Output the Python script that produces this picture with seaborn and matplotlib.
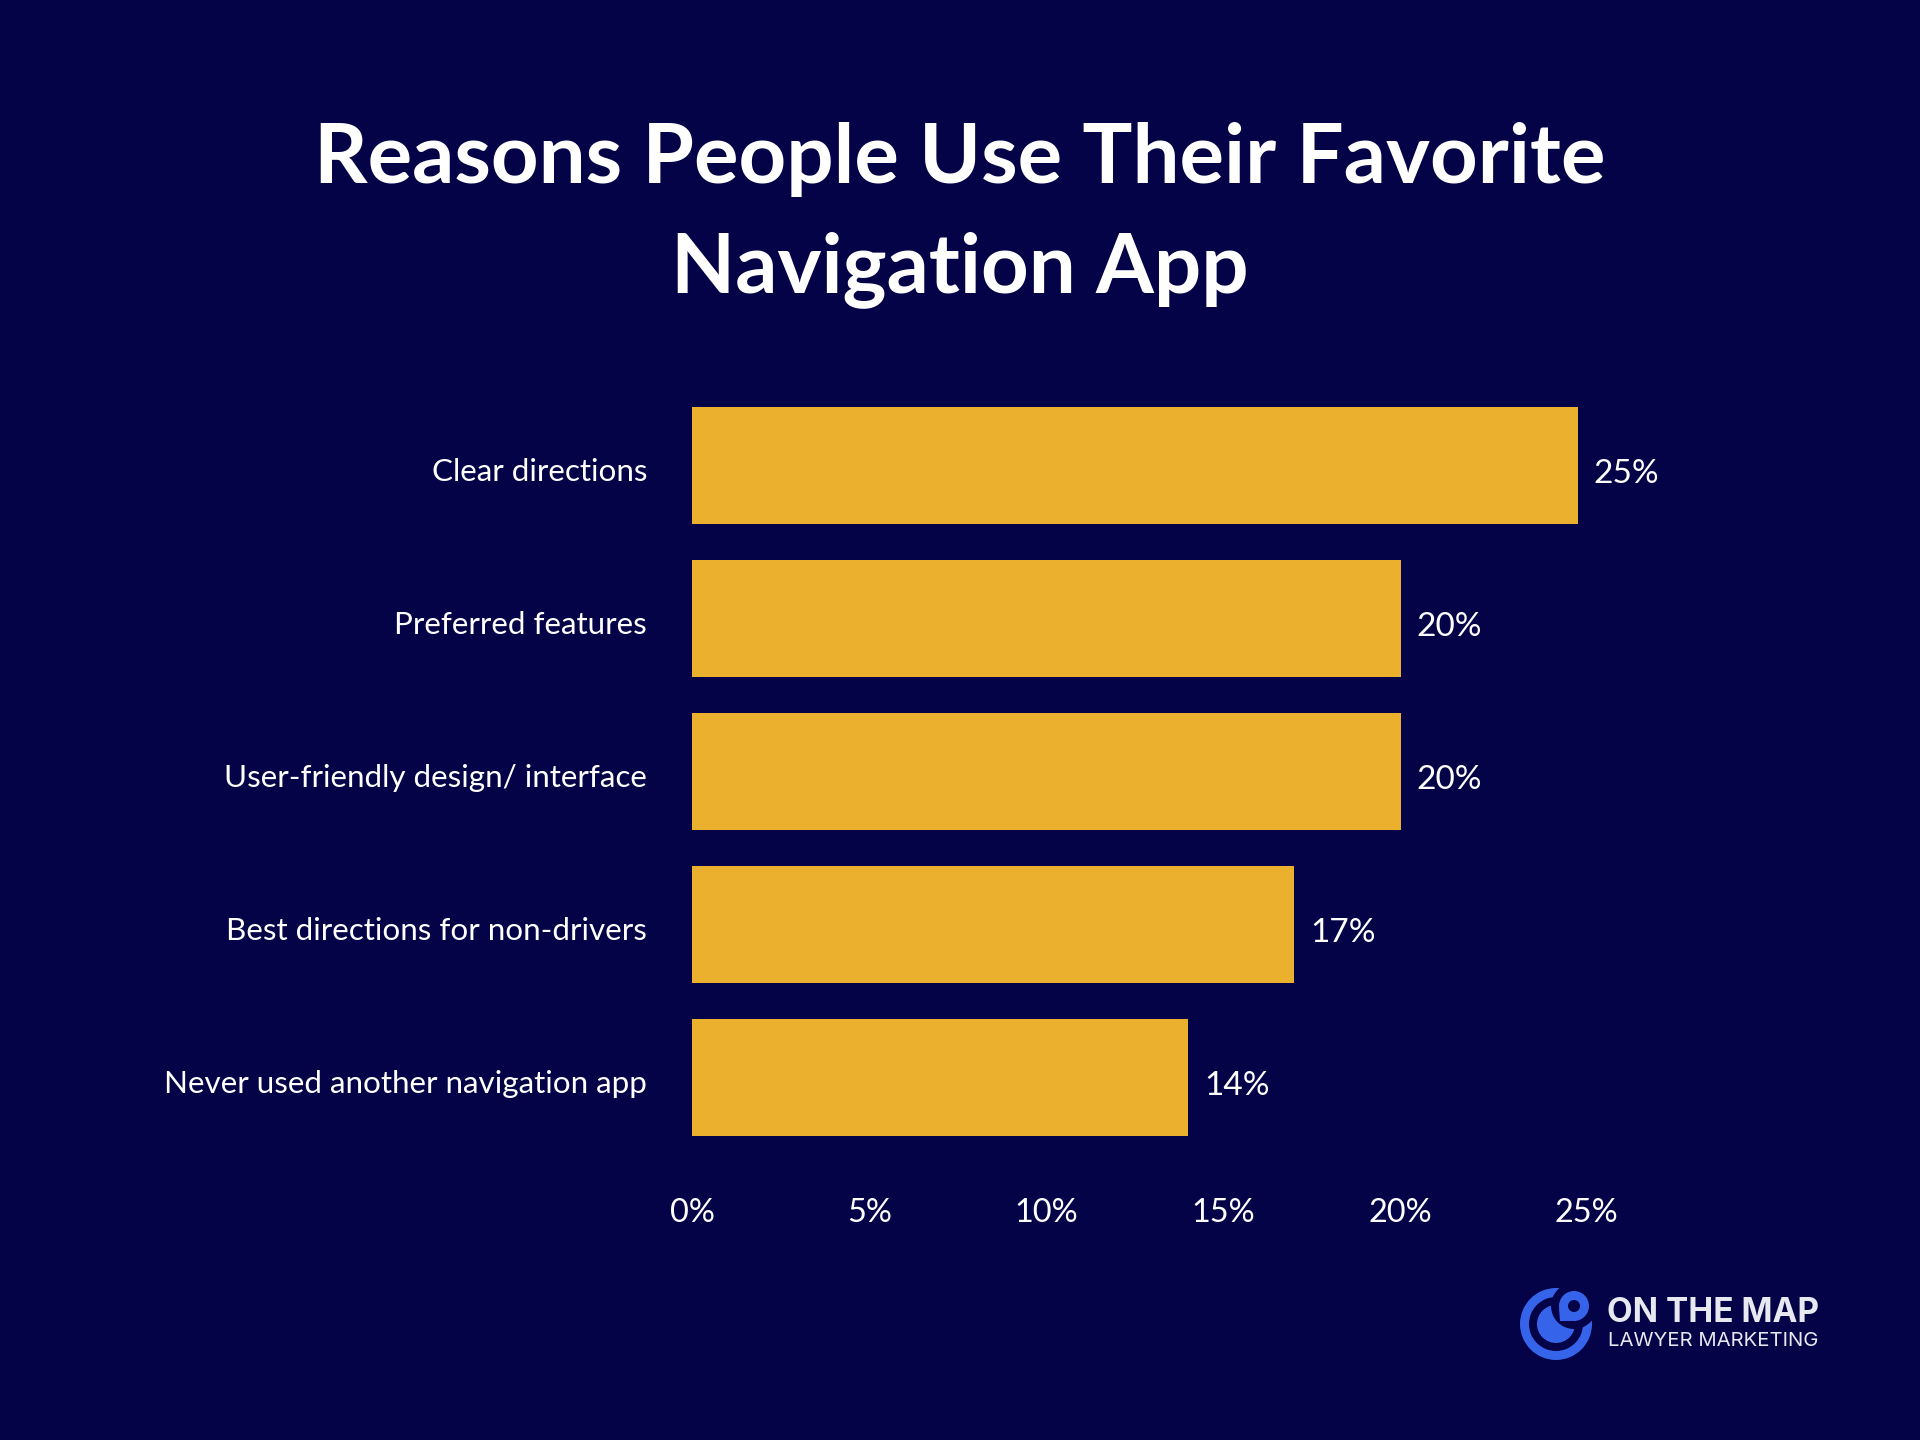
import pandas as pd
import matplotlib.pyplot as plt
from matplotlib.patches import Circle, Wedge, Polygon
from matplotlib.transforms import ScaledTranslation
import seaborn as sns

# Chart values
reasons = ['Clear directions', 'Preferred features', 'User-friendly design/ interface',
           'Best directions for non-drivers', 'Never used another navigation app']
shares = [25, 20, 20, 17, 14]
x_ticks = [0, 5, 10, 15, 20, 25]

BG = '#050347'
BAR = '#ECB02F'
BLUE = '#3563E9'

sns.set_theme(style='white')
plt.rcParams['font.family'] = ['Lato', 'DejaVu Sans']

df = pd.DataFrame({'reason': reasons, 'share': shares})

fig = plt.figure(figsize=(16, 12), dpi=120, facecolor=BG)
W, H = 1920, 1440

# Axes placed so the bars land where they do in the picture
ax = fig.add_axes([692 / W, 1 - 1136 / H, (1578 - 692) / W, (1136 - 407) / H], facecolor=BG)
sns.barplot(data=df, y='reason', x='share', orient='h', color=BAR, saturation=1, width=0.765,
            linewidth=0, ax=ax)
ax.set_xlim(0, 25)
ax.set_ylim(4.383, -0.383)
ax.set_xlabel('')
ax.set_ylabel('')
sns.despine(ax=ax, left=True, bottom=True)
ax.set_xticks(x_ticks)
ax.set_xticklabels([f'{t}%' for t in x_ticks])
ax.tick_params(axis='x', length=0, pad=37, labelsize=19.5, labelcolor='white')
ax.tick_params(axis='y', length=0, pad=27, labelsize=18.8, labelcolor='white')

# Labels sit a little below the bar centres in the picture
down = ScaledTranslation(0, -2.5 / 72, fig.dpi_scale_trans)
for label in ax.get_yticklabels():
    label.set_transform(label.get_transform() + down)
last = ax.get_xticklabels()[-1]
last.set_transform(last.get_transform() + ScaledTranslation(5 / 72, 0, fig.dpi_scale_trans))

value_labels = ax.bar_label(ax.containers[0], labels=[f'{s}%' for s in shares], padding=9.5,
                            color='white', fontsize=20, clip_on=False)
for t in value_labels:
    t.xyann = (t.xyann[0], t.xyann[1] - 5)

fig.text(0.5, 1 - 215 / H, 'Reasons People Use Their Favorite\nNavigation App', ha='center', va='center',
         color='white', fontsize=50, fontweight='bold', linespacing=1.55)

# Logo, drawn in pixel coordinates on an overlay
logo = fig.add_axes([0, 0, 1, 1], facecolor='none')
logo.set_xlim(0, W)
logo.set_ylim(H, 0)
logo.axis('off')
cx, cy = 1556, 1324
px, py = 1574, 1306
logo.add_patch(Wedge((cx, cy), 36, 0, 360, width=9, color=BLUE, lw=0))
logo.add_patch(Circle((cx, cy), 19, color=BLUE, lw=0))
logo.add_patch(Circle((px, py), 23, color=BG, lw=0))
logo.add_patch(Circle((px, py), 15, color=BLUE, lw=0))
logo.add_patch(Polygon([(px - 15, py + 2), (px - 2, py + 15), (px - 14, py + 15)], color=BLUE, lw=0))
logo.add_patch(Circle((px, py), 6, color=BG, lw=0))
logo.text(1607, 1313, 'ON THE MAP', color='#E8E8F0', fontsize=20, fontweight='bold',
          family='Inter', va='center', ha='left')
logo.text(1608, 1341, 'LAWYER MARKETING', color='#E8E8F0', fontsize=12.2,
          family='Inter', va='center', ha='left')

plt.savefig('out.png', dpi=120, facecolor=BG)
